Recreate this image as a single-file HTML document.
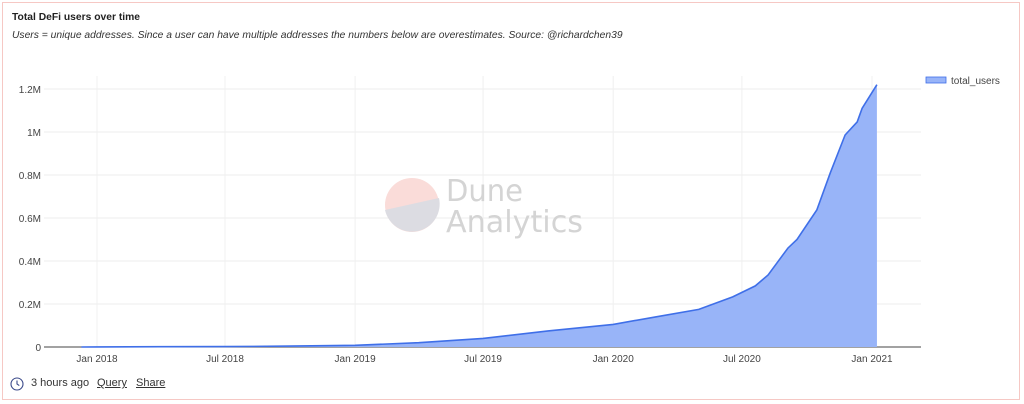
<!DOCTYPE html>
<html><head><meta charset="utf-8"><style>
html,body{margin:0;padding:0;background:#fff;}
body{width:1024px;height:404px;position:relative;overflow:hidden;font-family:"Liberation Sans",sans-serif;}
.frame{position:absolute;left:2px;top:2px;width:1018px;height:398px;border:1px solid #f6c8c4;box-sizing:border-box;}
.title{position:absolute;left:12px;top:12px;font-size:10.3px;font-weight:bold;color:#222;}
.sub{position:absolute;left:12px;top:30px;font-size:10.3px;font-style:italic;color:#333;}
.foot{position:absolute;top:377px;font-size:11px;color:#333;}
.foot a{color:#333;text-decoration:underline;}
</style></head><body>
<div class="frame"></div>
<div class="title">Total DeFi users over time</div>
<div class="sub">Users = unique addresses. Since a user can have multiple addresses the numbers below are overestimates. Source: @richardchen39</div>
<svg id="chart" width="1024" height="404" style="position:absolute;left:0;top:0"></svg>
<svg style="position:absolute;left:10px;top:377px" width="14" height="14"><circle cx="7" cy="7" r="6" fill="none" stroke="#3b4a8a" stroke-width="1.1"/><path d="M7 3.5V7l2.3 1.6" fill="none" stroke="#3b4a8a" stroke-width="1.1"/></svg>
<div class="foot" style="left:31px">3 hours ago</div>
<div class="foot" style="left:97px"><a>Query</a></div>
<div class="foot" style="left:136px"><a>Share</a></div>
<script>
const dates=["2017-12-10","2018-01-01","2018-04-01","2018-07-01","2018-10-01","2019-01-01","2019-04-01","2019-07-01","2019-10-01","2020-01-01","2020-03-01","2020-05-01","2020-06-18","2020-07-20","2020-08-07","2020-09-04","2020-09-17","2020-10-15","2020-11-03","2020-11-24","2020-12-11","2020-12-18","2021-01-08"];
const users=[0,500,1200,2000,4000,8000,20000,40000,75000,105000,140000,175000,233000,284000,335000,460000,500000,637000,810000,986000,1047000,1110000,1220000];
const yTicks=[0,200000,400000,600000,800000,1000000,1200000];
const yTickLabels=["0","0.2M","0.4M","0.6M","0.8M","1M","1.2M"];
const xTicks=["2018-01-01","2018-07-01","2019-01-01","2019-07-01","2020-01-01","2020-07-01","2021-01-01"];
const xTickLabels=["Jan 2018","Jul 2018","Jan 2019","Jul 2019","Jan 2020","Jul 2020","Jan 2021"];
const svg=document.getElementById('chart');const NS="http://www.w3.org/2000/svg";
const t0=Date.parse("2018-01-01"),t1=Date.parse("2021-01-01");
function xs(d){return 97+(Date.parse(d)-t0)/(t1-t0)*775;}
function ys(v){return 347-v/1200000*258;}
function el(tag,a,txt){const e=document.createElementNS(NS,tag);for(const k in a)e.setAttribute(k,a[k]);if(txt!==undefined)e.textContent=txt;svg.appendChild(e);return e;}
yTicks.forEach((v,i)=>{
 const g=el('line',{x1:44,x2:921,y1:ys(v),y2:ys(v),stroke:i==0?'#444':'#ececec','stroke-width':1});
 
 
 const t=el('text',{x:41,y:ys(v)+4,'text-anchor':'end','font-size':10,fill:'#444','font-family':'Liberation Sans, sans-serif'},yTickLabels[i]);
 
 
});
xTicks.forEach((d,i)=>{
 const g=el('line',{x1:xs(d),x2:xs(d),y1:76,y2:347,stroke:'#f0f0f0'});
 
 
 const t=el('text',{x:xs(d),y:362,'text-anchor':'middle','font-size':10,fill:'#444','font-family':'Liberation Sans, sans-serif'},xTickLabels[i]);
 
 
});
const wm=el('circle',{cx:412,cy:205,r:27,fill:'#fadcd9'});


el('path',{d:'M385 210 L439 198 A27 27 0 0 1 385 210 Z',fill:'#dcdce2'});
const w1=el('text',{x:446,y:201,'font-size':30,fill:'#d4d4d4','font-family':'DejaVu Sans, sans-serif',textLength:77,lengthAdjust:'spacingAndGlyphs'},'Dune');


el('text',{x:446,y:232,'font-size':30,fill:'#d4d4d4','font-family':'DejaVu Sans, sans-serif',textLength:137,lengthAdjust:'spacingAndGlyphs'},'Analytics');
let pts=dates.map((d,i)=>xs(d).toFixed(1)+','+ys(users[i]).toFixed(1));
const last=xs(dates[dates.length-1]),first=xs(dates[0]);
const area=el('path',{d:'M'+first+','+ys(0)+' L'+pts.join(' L')+' L'+last+','+ys(0)+'Z',fill:'#98b4f8'});


const line=el('polyline',{points:pts.join(' '),fill:'none',stroke:'#3f6fe8','stroke-width':1.6});


const ls=el('rect',{x:926,y:77,width:20,height:6,fill:'#98b4f8',stroke:'#3f6fe8','stroke-width':0.8});


const lt=el('text',{x:951,y:84,'font-size':10,fill:'#444','font-family':'Liberation Sans, sans-serif'},'total_users');


</script>
</body></html>
